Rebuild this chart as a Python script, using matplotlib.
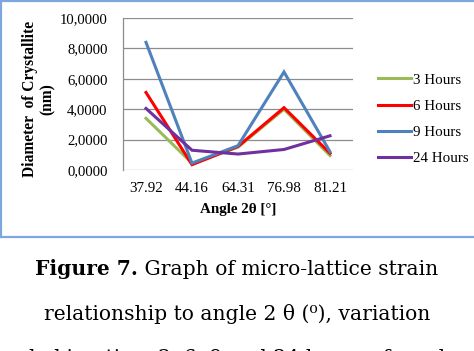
import matplotlib
matplotlib.use("Agg")
import matplotlib.pyplot as plt
from matplotlib.lines import Line2D

categories = ["37.92", "44.16", "64.31", "76.98", "81.21"]
series_names = ["3 Hours", "6 Hours", "9 Hours", "24 Hours"]
hours3 = [3.40, 0.45, 1.50, 4.00, 0.95]
hours6 = [5.10, 0.35, 1.55, 4.10, 1.10]
hours9 = [8.40, 0.45, 1.60, 6.45, 1.20]
hours24 = [4.05, 1.30, 1.05, 1.35, 2.25]
yticks = [0, 2, 4, 6, 8, 10]
ytick_labels = ["0,0000", "2,0000", "4,0000", "6,0000", "8,0000", "10,0000"]

colors = ["#9bbb59", "#ff0000", "#4f81bd", "#7030a0"]
W, H = 474, 351
fig = plt.figure(figsize=(W / 100, H / 100), dpi=100)

serif = "Liberation Serif"

ax = fig.add_axes([123 / W, 1 - 170 / H, 230 / W, 152 / H])
x = list(range(len(categories)))
for vals, c, n in zip([hours3, hours6, hours9, hours24], colors, series_names):
    ax.plot(x, vals, color=c, lw=2.2, label=n, solid_joinstyle="miter")
ax.set_xlim(-0.5, len(categories) - 0.5)
ax.set_ylim(0, 10)
ax.set_yticks(yticks)
ax.set_yticklabels(ytick_labels, fontfamily=serif, fontsize=10.6)
ax.set_xticks(x)
ax.set_xticklabels(categories, fontfamily=serif, fontsize=10.8)
ax.tick_params(axis="both", length=0, colors="black")
ax.tick_params(axis="y", pad=11)
ax.tick_params(axis="x", pad=9)
ax.grid(axis="y", color="#8c8c8c", lw=0.9)
ax.set_axisbelow(True)
for s in ["top", "right", "bottom"]:
    ax.spines[s].set_visible(False)
ax.spines["left"].set_color("#8c8c8c")
ax.spines["left"].set_linewidth(0.9)

fig.text(30 / W, 1 - 99 / H, "Diameter  of Crystallite", rotation=90, ha="center", va="center",
         fontfamily=serif, fontweight="bold", fontsize=11.2)
fig.text(48 / W, 1 - 99 / H, "(nm)", rotation=90, ha="center", va="center",
         fontfamily=serif, fontweight="bold", fontsize=11.2)
fig.text(238 / W, 1 - 210 / H, "Angle 2θ [°]", ha="center", va="center",
         fontfamily=serif, fontweight="bold", fontsize=10.8)

# legend
handles = [Line2D([0], [0], color=c, lw=2.2) for c in colors]
fig.legend(handles, series_names, loc="upper left", bbox_to_anchor=(372 / W, 1 - 67 / H),
           frameon=False, prop={"family": serif, "size": 10.8}, handlelength=2.2,
           handletextpad=0.15, labelspacing=0.85, borderaxespad=0)

# border of chart image
border = "#7fa7df"
fig.add_artist(Line2D([0, 1], [1 - 1 / H, 1 - 1 / H], color=border, lw=1.6, transform=fig.transFigure))
fig.add_artist(Line2D([1 / W, 1 / W], [1 - 237 / H, 1], color=border, lw=1.6, transform=fig.transFigure))
fig.add_artist(Line2D([0, 1], [1 - 237 / H, 1 - 237 / H], color=border, lw=1.6, transform=fig.transFigure))

cap_font = "DejaVu Serif"
cs = 14.6
renderer = fig.canvas.get_renderer()
# line 1: bold part + normal part, centred together
t_bold = fig.text(0, 1 - 275 / H, "Figure 7.", ha="left", va="baseline",
                  fontfamily=cap_font, fontweight="bold", fontsize=cs)
t_norm = fig.text(0, 1 - 275 / H, " Graph of micro-lattice strain", ha="left", va="baseline",
                  fontfamily=cap_font, fontsize=cs)
wb = t_bold.get_window_extent(renderer).width
wn = t_norm.get_window_extent(renderer).width
x0 = (W - (wb + wn)) / 2
t_bold.set_x(x0 / W)
t_norm.set_x((x0 + wb) / W)
fig.text(0.5, 1 - 320 / H, "relationship to angle 2 θ (⁰), variation", ha="center", va="baseline",
         fontfamily=cap_font, fontsize=cs)
fig.text(0.5, 1 - 364 / H, "baking time 3, 6, 9 and 24 hours of sand", ha="center", va="baseline",
         fontfamily=cap_font, fontsize=cs)

fig.savefig("out.png", dpi=100)
